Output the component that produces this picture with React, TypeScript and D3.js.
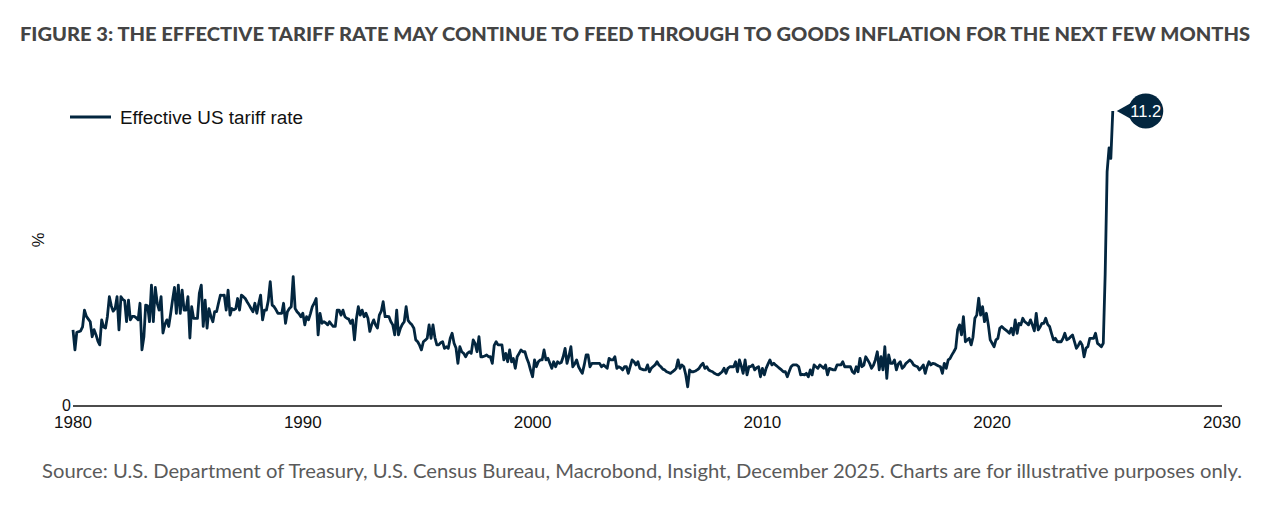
import React from 'react';
import * as d3 from 'd3';

const START_YEAR = 1980;
const xTickYears = [1980, 1990, 2000, 2010, 2020, 2030];
const yTicks = [0];
const seriesName = 'Effective US tariff rate';
const titleText = 'FIGURE 3: THE EFFECTIVE TARIFF RATE MAY CONTINUE TO FEED THROUGH TO GOODS INFLATION FOR THE NEXT FEW MONTHS';
const sourceText = 'Source: U.S. Department of Treasury, U.S. Census Bureau, Macrobond, Insight, December 2025. Charts are for illustrative purposes only.';

// Monthly effective US tariff rate (%), Jan 1980 onward
const rate1980s = [
  2.89, 2.13, 2.80, 2.82, 2.85, 3.00, 3.64, 3.40, 3.30, 3.20, 2.63, 2.90,
  2.70, 2.45, 2.32, 3.27, 3.00, 2.96, 3.40, 4.15, 3.80, 3.60, 3.70, 4.15,
  2.89, 4.15, 4.05, 4.00, 3.20, 4.02, 3.27, 3.40, 3.40, 3.35, 3.27, 3.90,
  2.13, 2.63, 3.83, 3.80, 3.20, 4.59, 3.20, 4.50, 3.90, 3.64, 4.15, 2.77,
  3.10, 3.27, 3.02, 3.50, 4.02, 4.50, 3.52, 4.59, 3.52, 4.40, 3.64, 3.64,
  4.15, 2.58, 3.77, 3.33, 3.33, 3.33, 4.28, 4.59, 3.02, 4.02, 2.96, 3.70,
  3.40, 3.20, 3.58, 3.58, 3.90, 4.21, 4.20, 4.21, 3.64, 4.40, 3.45, 3.70,
  3.65, 3.70, 4.08, 3.64, 4.21, 4.15, 4.08, 3.95, 3.83, 3.70, 3.58, 3.90,
  3.52, 3.90, 4.21, 3.27, 3.64, 3.64, 4.00, 4.72, 3.83, 3.77, 3.65, 3.52,
  3.52, 3.52, 3.90, 3.14, 3.58, 3.70, 3.77, 4.91, 3.70, 3.58, 3.50, 3.39,
];
const rate1990s = [
  3.52, 3.08, 3.39, 3.27, 3.50, 3.77, 3.90, 4.08, 2.70, 3.52, 3.14, 3.20,
  3.15, 3.08, 3.20, 3.10, 3.02, 3.02, 3.64, 3.64, 3.45, 3.64, 3.39, 3.33,
  3.30, 3.14, 3.27, 2.51, 3.30, 3.77, 3.45, 3.64, 3.39, 3.52, 3.33, 2.83,
  3.10, 3.27, 3.08, 2.96, 3.45, 3.60, 3.96, 3.39, 3.40, 3.39, 3.20, 3.08,
  2.70, 3.64, 2.70, 2.95, 3.10, 3.20, 3.77, 3.25, 3.15, 3.08, 2.95, 2.51,
  2.44, 2.30, 2.13, 2.44, 2.50, 2.57, 3.08, 2.57, 3.08, 2.60, 2.32, 2.32,
  2.40, 2.44, 2.19, 2.25, 2.19, 2.57, 2.76, 2.38, 2.20, 1.62, 2.25, 2.06,
  2.00, 1.87, 2.00, 2.06, 2.00, 2.51, 2.38, 2.06, 2.63, 1.87, 1.87, 1.90,
  1.94, 1.87, 1.87, 1.62, 2.30, 2.44, 2.32, 2.32, 2.32, 1.75, 2.00, 1.68,
  2.13, 1.68, 1.80, 1.43, 1.87, 2.00, 2.13, 2.06, 2.06, 1.81, 1.62, 1.35,
];
const rate2000s = [
  1.11, 1.75, 1.49, 1.68, 1.75, 1.75, 2.13, 1.75, 1.81, 1.62, 1.43, 1.68,
  1.49, 1.68, 1.62, 1.65, 1.87, 2.19, 1.62, 1.90, 2.25, 1.49, 1.60, 1.75,
  1.49, 1.35, 1.24, 1.56, 1.94, 1.94, 1.49, 1.62, 1.62, 1.62, 1.62, 1.62,
  1.49, 1.56, 1.50, 1.43, 1.81, 1.75, 1.75, 1.87, 1.43, 1.49, 1.45, 1.37,
  1.49, 1.49, 1.24, 1.50, 1.75, 1.68, 1.56, 1.68, 1.43, 1.40, 1.37, 1.37,
  1.56, 1.30, 1.43, 1.50, 1.56, 1.68, 1.56, 1.49, 1.40, 1.37, 1.30, 1.27,
  1.24, 1.30, 1.35, 1.43, 1.75, 1.43, 1.56, 1.49, 1.18, 0.73, 1.37, 1.30,
  1.30, 1.33, 1.37, 1.43, 1.55, 1.62, 1.43, 1.49, 1.37, 1.33, 1.30, 1.24,
  1.20, 1.18, 1.24, 1.30, 1.43, 1.24, 1.43, 1.49, 1.49, 1.49, 1.68, 1.30,
  1.75, 1.50, 1.24, 1.75, 1.18, 1.49, 1.50, 1.56, 1.37, 1.45, 1.49, 1.11,
];
const rate2010s = [
  1.43, 1.18, 1.43, 1.60, 1.75, 1.56, 1.62, 1.55, 1.49, 1.43, 1.37, 1.30,
  1.30, 1.11, 1.30, 1.49, 1.56, 1.56, 1.56, 1.49, 1.18, 1.20, 1.18, 1.24,
  1.11, 1.37, 1.18, 1.56, 1.49, 1.43, 1.56, 1.50, 1.43, 1.56, 1.18, 1.43,
  1.40, 1.37, 1.37, 1.56, 1.56, 1.56, 1.68, 1.49, 1.49, 1.49, 1.49, 1.30,
  1.24, 1.49, 1.30, 1.81, 1.49, 1.55, 1.87, 1.75, 1.62, 1.43, 1.55, 1.75,
  2.06, 1.37, 1.87, 1.37, 2.25, 1.05, 1.94, 1.62, 1.62, 1.75, 1.37, 1.60,
  1.68, 1.43, 1.50, 1.62, 1.68, 1.75, 1.68, 1.56, 1.52, 1.49, 1.37, 1.45,
  1.56, 1.24, 1.49, 1.68, 1.56, 1.62, 1.60, 1.56, 1.52, 1.49, 1.24, 1.62,
  1.43, 1.75, 1.80, 1.94, 2.06, 2.20, 2.89, 3.08, 2.70, 3.39, 2.44, 2.51,
  2.57, 2.32, 2.60, 3.33, 3.45, 4.09, 3.45, 3.77, 3.20, 3.52, 3.08, 2.51,
];
const rate2020s = [
  2.38, 2.25, 2.51, 2.57, 2.95, 3.02, 2.95, 2.89, 2.83, 2.76, 2.95, 2.70,
  3.27, 2.76, 3.14, 3.08, 3.33, 3.20, 3.15, 3.08, 3.27, 3.08, 2.85, 3.52,
  2.89, 3.00, 3.14, 3.14, 3.33, 3.10, 3.02, 2.76, 2.51, 2.57, 2.44, 2.44,
  2.44, 2.57, 2.76, 2.51, 2.55, 2.63, 2.70, 2.44, 2.19, 2.30, 2.44, 2.32,
  1.87, 2.20, 2.25, 2.57, 2.57, 2.57, 2.76, 2.38, 2.32, 2.25, 2.38, 5.00,
  8.90, 9.80, 9.40, 11.20,
];

const tariffRate = [...rate1980s, ...rate1990s, ...rate2000s, ...rate2010s, ...rate2020s];
const dates = tariffRate.map((_, i) => new Date(START_YEAR, i, 1));

const W = 1280;
const H = 516;
const LINE_COLOR = '#03263f';

export default function App() {
  const x = d3
    .scaleTime()
    .domain([new Date(1980, 0, 1), new Date(2030, 0, 1)])
    .range([73, 1222]);
  const y = d3.scaleLinear().domain([0, 12]).range([406, 406 - 12 * 26.34]);

  const points: [Date, number][] = dates.map((d, i) => [d, tariffRate[i]]);
  const line = d3
    .line<[Date, number]>()
    .x((d) => x(d[0]))
    .y((d) => y(d[1]));

  const last = points[points.length - 1];
  const lx = x(last[0]);
  const ly = y(last[1]);
  const cx = lx + 33;

  return (
    <div style={{ position: 'absolute', left: 0, top: 0, width: W, height: H, background: '#fff' }}>
      <svg width={W} height={H} style={{ display: 'block' }}>
        <text
          x={20}
          y={41}
          fontFamily="Lato, 'Open Sans', sans-serif"
          fontWeight={900}
          fontSize={18}
          fill="#444"
          textLength={1230}
          lengthAdjust="spacingAndGlyphs"
        >
          {titleText}
        </text>

        {/* legend */}
        <line x1={70} x2={111} y1={117} y2={117} stroke={LINE_COLOR} strokeWidth={3} />
        <text
          x={120}
          y={123.5}
          fontFamily="'Liberation Sans', Arial, sans-serif"
          fontSize={18}
          fill="#111"
          textLength={183}
          lengthAdjust="spacingAndGlyphs"
        >
          {seriesName}
        </text>

        {/* y label */}
        <text
          transform="translate(44,240) rotate(-90)"
          textAnchor="middle"
          fontFamily="'Liberation Sans', Arial, sans-serif"
          fontSize={16.5}
          fill="#111"
        >
          %
        </text>

        {/* y ticks */}
        {yTicks.map((t) => (
          <text
            key={t}
            x={71}
            y={y(t) + 5}
            textAnchor="end"
            fontFamily="'Liberation Sans', Arial, sans-serif"
            fontSize={16}
            fill="#111"
          >
            {t}
          </text>
        ))}

        {/* x axis */}
        <line x1={x(new Date(1980, 0, 1))} x2={x(new Date(2030, 0, 1))} y1={y(0)} y2={y(0)} stroke="#111" strokeWidth={1.5} />
        {xTickYears.map((yr) => (
          <text
            key={yr}
            x={x(new Date(yr, 0, 1))}
            y={428}
            textAnchor="middle"
            fontFamily="'Liberation Sans', Arial, sans-serif"
            fontSize={17}
            fill="#111"
          >
            {yr}
          </text>
        ))}

        {/* series */}
        <path d={line(points) || ''} fill="none" stroke={LINE_COLOR} strokeWidth={2.8} strokeLinejoin="round" />

        {/* end label */}
        <path d={`M${lx + 4},${ly} L${lx + 20},${ly - 9} L${lx + 20},${ly + 9} Z`} fill={LINE_COLOR} />
        <circle cx={cx} cy={ly} r={17.5} fill={LINE_COLOR} />
        <text
          x={cx}
          y={ly + 6}
          textAnchor="middle"
          fontFamily="'Liberation Sans', Arial, sans-serif"
          fontSize={16.5}
          fill="#fff"
        >
          {last[1].toFixed(1)}
        </text>

        {/* source */}
        <text
          x={42}
          y={478}
          fontFamily="Lato, 'Open Sans', sans-serif"
          fontWeight={400}
          fontSize={19}
          fill="#5a5a5a"
          textLength={1200}
          lengthAdjust="spacingAndGlyphs"
        >
          {sourceText}
        </text>
      </svg>
    </div>
  );
}
